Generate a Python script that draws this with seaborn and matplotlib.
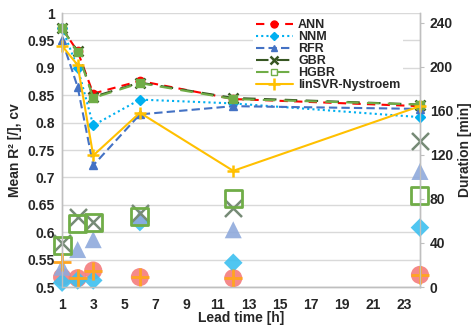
import numpy as np
import pandas as pd
import matplotlib
matplotlib.use("Agg")
import matplotlib.pyplot as plt
import seaborn as sns
from matplotlib.lines import Line2D

sns.set_style("white")
plt.rcParams['font.family'] = ['Liberation Sans', 'DejaVu Sans']
plt.rcParams['font.weight'] = 'bold'

lead = [1, 2, 3, 6, 12, 24]
models = ["ANN", "NNM", "RFR", "GBR", "HGBR", "linSVR-Nystroem"]

r2_ann = [0.972, 0.930, 0.853, 0.876, 0.843, 0.830]
r2_nnm = [0.972, 0.900, 0.795, 0.842, 0.835, 0.810]
r2_rfr = [0.950, 0.865, 0.722, 0.815, 0.830, 0.825]
r2_gbr = [0.972, 0.930, 0.847, 0.873, 0.845, 0.833]
r2_hgbr = [0.972, 0.928, 0.845, 0.872, 0.843, 0.833]
r2_svr = [0.940, 0.905, 0.740, 0.818, 0.712, 0.830]

dur_ann = [9, 8, 15, 9, 8, 11]
dur_nnm = [4, 6, 6, 59, 22, 54]
dur_rfr = [18, 34, 43, 63, 52, 105]
dur_gbr = [40, 64, 59, 67, 72, 133]
dur_hgbr = [38, 58, 59, 64, 80, 83]
dur_svr = [23, 8, 15, 9, 8, 11]

xticks = [1, 3, 5, 7, 9, 11, 13, 15, 17, 19, 21, 23]
yticks_left = [0.5, 0.55, 0.6, 0.65, 0.7, 0.75, 0.8, 0.85, 0.9, 0.95, 1.0]
yticklabels_left = ["0.5", "0.55", "0.6", "0.65", "0.7", "0.75", "0.8", "0.85", "0.9", "0.95", "1"]
yticks_right = [0, 40, 80, 120, 160, 200, 240]

r2 = [r2_ann, r2_nnm, r2_rfr, r2_gbr, r2_hgbr, r2_svr]
dur = [dur_ann, dur_nnm, dur_rfr, dur_gbr, dur_hgbr, dur_svr]

line_colors = ["#FF0000", "#00B0F0", "#4472C4", "#375623", "#70AD47", "#FFC000"]
dur_colors = ["#F47C7C", "#3DC0F0", "#8FAADC", "#768B76", "#70AD47", "#FFA520"]
line_styles = [(0, (4, 3)), (0, (1, 1.5)), (0, (4, 2)), (0, (6, 4)), (0, (6, 4)), "-"]
markers = ["o", "D", "^", "X", "s", "+"]
msizes = [6, 5, 6, 7, 6, 9]

df = pd.DataFrame({
    "lead": lead * 6,
    "model": np.repeat(models, len(lead)),
    "r2": np.concatenate(r2),
    "dur": np.concatenate(dur),
})

fig = plt.figure(figsize=(4.74, 3.26), dpi=100)
ax = fig.add_axes([0.131, 0.1196, 0.755, 0.8405])
ax2 = ax.twinx()

# durations (right axis)
for i, m in enumerate(models):
    sub = df[df.model == m]
    if markers[i] == "s":
        sns.scatterplot(data=sub, x="lead", y="dur", ax=ax2, marker="s", s=150,
                        facecolor="none", edgecolor=dur_colors[i], linewidth=2,
                        legend=False, clip_on=False, zorder=3)
    elif markers[i] == "X":
        sns.scatterplot(data=sub, x="lead", y="dur", ax=ax2, marker="x", s=150,
                        color=dur_colors[i], linewidth=1.8,
                        legend=False, clip_on=False, zorder=3)
    elif markers[i] == "+":
        sns.scatterplot(data=sub, x="lead", y="dur", ax=ax2, marker="+", s=170,
                        color=dur_colors[i], linewidth=2,
                        legend=False, clip_on=False, zorder=4)
    else:
        sz = {"o": 170, "D": 90, "^": 150}[markers[i]]
        sns.scatterplot(data=sub, x="lead", y="dur", ax=ax2, marker=markers[i], s=sz,
                        color=dur_colors[i], edgecolor="none", alpha=0.9,
                        legend=False, clip_on=False, zorder=3)

ax2.set_ylim(0, 249)
ax2.set_yticks(yticks_right, labels=[str(v) for v in yticks_right],
               fontweight="bold", fontsize=10)
ax2.set_ylabel("Duration [min]", fontsize=10, fontweight="bold")
ax2.tick_params(axis="y", length=3, color="#BFBFBF", pad=4)

ax.set_zorder(ax2.get_zorder() + 1)
ax.patch.set_visible(False)

for i, m in enumerate(models):
    sub = df[df.model == m]
    mk = "x" if markers[i] == "X" else markers[i]
    sns.lineplot(data=sub, x="lead", y="r2", ax=ax, color=line_colors[i],
                 linestyle=line_styles[i], linewidth=1.5, marker=mk,
                 markersize=msizes[i], markerfacecolor=line_colors[i],
                 markeredgecolor=line_colors[i], markeredgewidth=1.8 if mk in "x+" else 1,
                 clip_on=False, legend=False)

ax.set_xlim(1, 24)
ax.set_ylim(0.5, 1.0)
ax.set_xticks(xticks, labels=[str(v) for v in xticks], fontweight="bold", fontsize=10)
ax.set_yticks(yticks_left, labels=yticklabels_left, fontweight="bold", fontsize=10)
ax.tick_params(axis="x", length=0, pad=8)
ax.tick_params(axis="y", length=0, pad=5)
ax.set_xlabel("Lead time [h]", fontsize=10, fontweight="bold", labelpad=-1)
ax.set_ylabel("Mean R\u00b2 [/], cv", fontsize=10, fontweight="bold", labelpad=4)

for v in yticks_left:
    ax2.axhline((v - 0.5) / 0.5 * 249, color="#D9D9D9", linewidth=1, zorder=0)

for a in (ax, ax2):
    a.spines["top"].set_visible(False)
    for s in ["left", "right", "bottom"]:
        a.spines[s].set_color("#BFBFBF")
        a.spines[s].set_linewidth(1)

handles = []
for i, m in enumerate(models):
    mk = "x" if markers[i] == "X" else markers[i]
    handles.append(Line2D([0], [0], color=line_colors[i], linestyle=line_styles[i],
                          linewidth=1.5, marker=mk, markersize=msizes[i] - 1,
                          markerfacecolor="none" if mk == "s" else line_colors[i],
                          markeredgecolor=line_colors[i],
                          markeredgewidth=1.8 if mk in "x+" else 1))
leg = ax.legend(handles, models, loc="upper left", bbox_to_anchor=(0.53, 0.99),
                frameon=True, fancybox=False, framealpha=1, edgecolor="none",
                prop={"size": 9, "weight": "bold"}, handlelength=3.0,
                handletextpad=0.4, handleheight=0.6,
                labelspacing=0.0, borderpad=0.2, borderaxespad=0.1)

fig.savefig("out.png", dpi=100)
